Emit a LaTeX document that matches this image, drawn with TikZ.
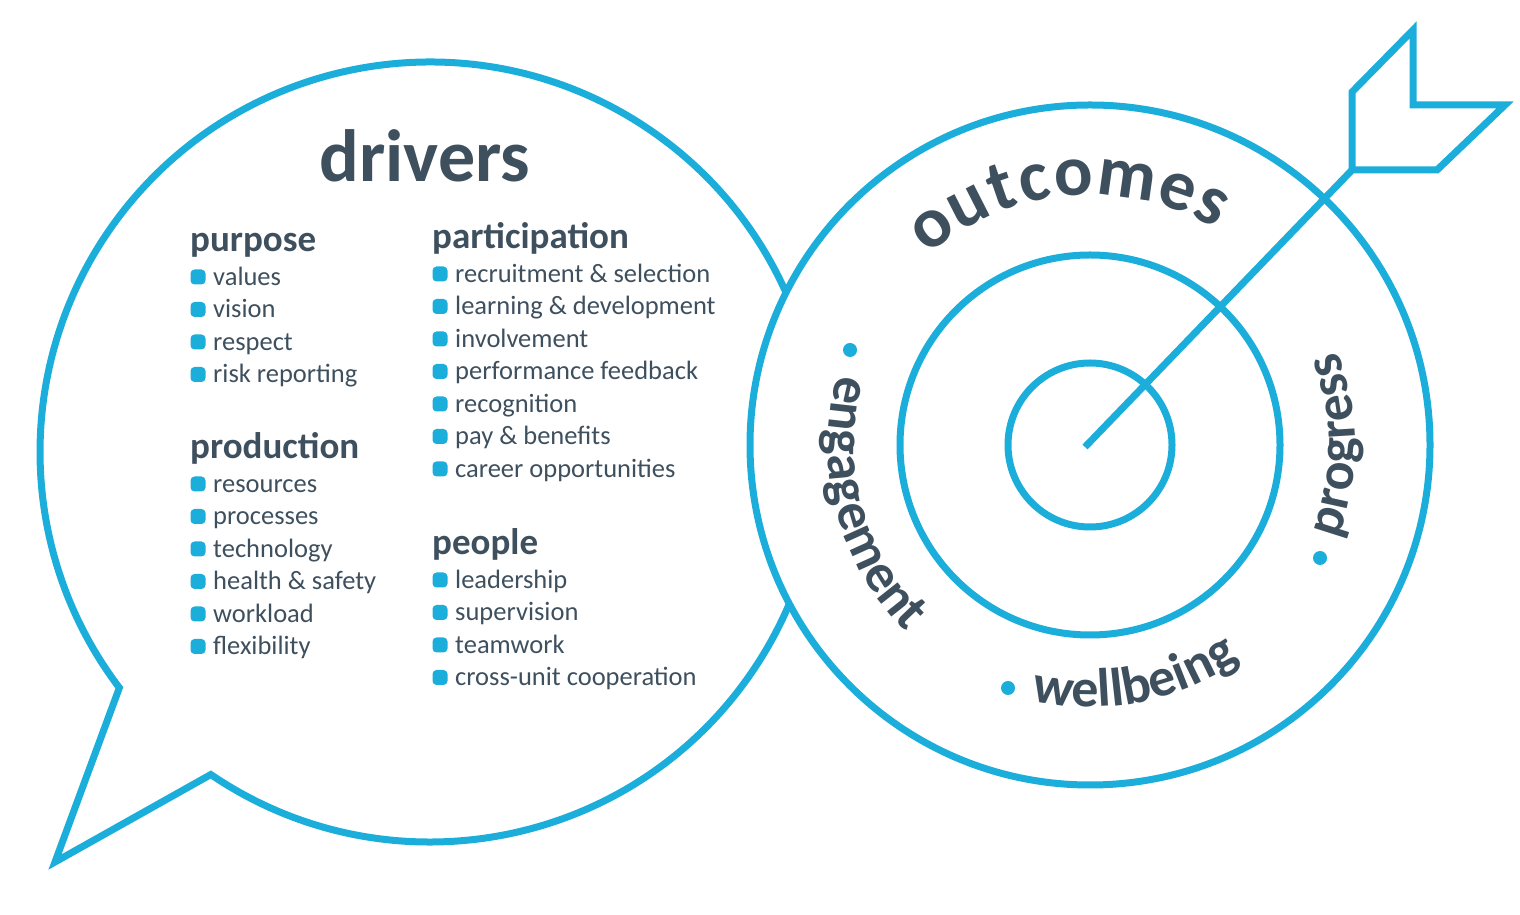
\documentclass[tikz,border=0pt]{standalone}
\usepackage{fontspec}
\setmainfont{Carlito}
\usetikzlibrary{decorations.text,calc}
\definecolor{ink}{HTML}{3E4F5E}
\definecolor{sky}{HTML}{1BAEDB}
\tikzset{
  ring/.style={draw=sky,line width=7pt},
  head/.style={anchor=base west,inner sep=0pt,text=ink,font=\fontsize{37}{40}\selectfont\bfseries},
  item/.style={anchor=base west,inner sep=0pt,text=ink,font=\fontsize{26.5}{30}\selectfont},
  bul/.style={fill=sky,rounded corners=4pt,minimum size=15pt,inner sep=0pt},
  dot/.style={fill=sky,circle,minimum size=14pt,inner sep=0pt},
  letter/.style={anchor=base,inner sep=0pt,text=ink,font=\fontsize{72}{72}\selectfont\bfseries},
  arctext/.style 2 args={decorate,decoration={text along path,text align=center,text color=ink,
     text={|\fontsize{#1}{#1}\selectfont\bfseries|#2}}}
}
\newcommand\itemlist[4]{%
  \foreach \t [count=\i] in {#4} {
    \node[bul] (#1b\i) at (#2-15, {915-(#3+(\i-1)*32.5)}) {};
    \node[item] (#1t\i) at (#2, {915-(#3+(\i-1)*32.5)-8.5}) {\t};
  }}
\begin{document}
\begin{tikzpicture}[x=1pt,y=1pt]
\useasboundingbox (0,0) rectangle (1520,915);
% bubble
\draw[ring,line join=miter] (430,463) ++(235.8:390) coordinate (tb)
  arc[start angle=235.8,end angle=577.2,radius=390] coordinate (ta) -- (55,53) coordinate (tip) -- cycle;
% target
\filldraw[ring,fill=white] (1090,470) circle[radius=340];
\draw[ring] (1090,470) circle[radius=190];
\draw[ring] (1090,470) circle[radius=82];
\coordinate (ctr) at (1085,468);
\coordinate (nock) at (1352,745);
\draw[ring] (ctr) -- (nock);
\draw[ring,line join=miter] (nock) -- (1352,823) -- (1413,885) -- (1413,810) -- (1505,810) -- (1437,745) -- cycle;
% outcomes, letter by letter
\foreach \c/\a [count=\i] in {o/126,u/117,t/109,c/102,o/93.5,m/82,e/71,s/63}
  \node[letter,rotate=\a-90] (oc\i) at ($(1090,470)+(\a:250)$) {\c};
% arc labels
\path[arctext={54}{engagement}] (1090,470) ++(150:262) arc[start angle=150,end angle=240,radius=262];
\path[arctext={54}{wellbeing}] (1090,470) ++(250:262) arc[start angle=250,end angle=312,radius=262];
\path[arctext={54}{progress}] (1090,470) ++(330:265) arc[start angle=330,end angle=390,radius=265];
\node[dot] (d1) at (850,565) {};
\node[dot] (d2) at (1008,227) {};
\node[dot] (d3) at (1320,357) {};
% drivers
\node[anchor=base,inner sep=0pt,text=ink,font=\fontsize{74}{76}\selectfont\bfseries] (drv) at (425,733) {drivers};
\node[head] (hpur) at (190,663) {purpose};
\itemlist{pu}{213}{277}{values,vision,respect,risk reporting}
\node[head] (hpro) at (190,456) {production};
\itemlist{pr}{213}{484}{resources,processes,technology,health \& safety,workload,flexibility}
\node[head] (hpar) at (432,666) {participation};
\itemlist{pa}{455}{274}{recruitment \& selection,learning \& development,involvement,performance feedback,recognition,pay \& benefits,career opportunities}
\node[head] (hpeo) at (432,360) {people};
\itemlist{pe}{455}{580}{leadership,supervision,teamwork,cross-unit cooperation}
\end{tikzpicture}
\end{document}
